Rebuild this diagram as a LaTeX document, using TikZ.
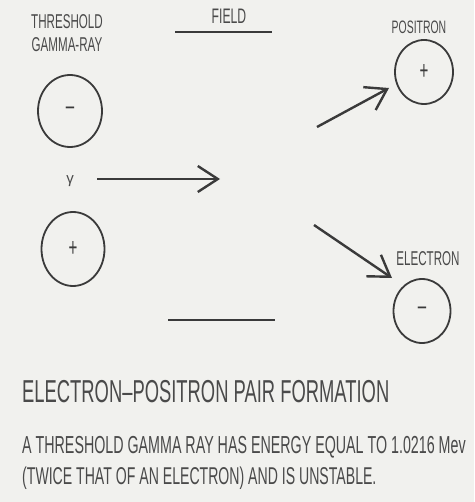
\documentclass[tikz,border=0pt]{standalone}
\usepackage{fontspec}
\setmainfont[FakeStretch=0.58]{Liberation Sans}
\newfontfamily\plainsans{Liberation Sans}
\usetikzlibrary{arrows.meta,shapes.geometric}
\definecolor{ink}{HTML}{3A3A3A}
\definecolor{txt}{HTML}{4A4A4A}
\definecolor{paper}{HTML}{F1F1EE}
\begin{document}
\begin{tikzpicture}[x=1pt,y=-1pt,
  lbl/.style={text=txt,inner sep=0pt,anchor=center},
  particle/.style={draw=ink,line width=1.8pt,ellipse,inner sep=0pt,text=ink,font=\fontsize{26}{26}\selectfont},
  bar/.style={draw=ink,line width=2pt},
  ray/.style={draw=ink,line width=2.4pt,-{Straight Barb[length=20pt,width=26pt,line width=2.4pt]}}]
\fill[paper] (0,0) rectangle (474,502);
\useasboundingbox (0,0) rectangle (474,502);
% labels top
\node[lbl,font=\fontsize{20}{20}\selectfont] (thr) at (67,22) {THRESHOLD};
\node[lbl,font=\fontsize{20}{20}\selectfont] (gam) at (67,45) {GAMMA-RAY};
\node[lbl,font=\fontsize{21}{21}\selectfont] (field) at (229,16) {FIELD};
\node[lbl,font=\fontsize{18}{18}\selectfont] (poslbl) at (419,27) {POSITRON};
\node[lbl,font=\fontsize{20}{20}\selectfont] (elelbl) at (428,259) {ELECTRON};
% field bars
\coordinate (f1a) at (175,32); \coordinate (f1b) at (272,32);
\coordinate (f2a) at (168,320); \coordinate (f2b) at (275,320);
\draw[bar] (f1a) -- (f1b);
\draw[bar] (f2a) -- (f2b);
% particles
\node[particle,minimum width=64pt,minimum height=72pt] (neg) at (70,111) {–};
\node[lbl,font=\plainsans\fontsize{15}{15}\selectfont] (gamma) at (70,181) {γ};
\node[particle,minimum width=63pt,minimum height=74pt] (pos) at (73,249) {+};
\node[particle,minimum width=58pt,minimum height=64pt] (posout) at (424,72) {+};
\node[particle,minimum width=57pt,minimum height=64pt] (eleout) at (422,311) {–};
% arrows
\coordinate (h1) at (97,179); \coordinate (h2) at (220,179);
\draw[ray] (h1) -- (h2);
\coordinate (p1) at (317,127); \coordinate (p2) at (389,88);
\draw[ray] (p1) -- (p2);
\coordinate (e1) at (314,225); \coordinate (e2) at (392,278);
\draw[ray] (e1) -- (e2);
% captions
\node[lbl,anchor=west,font=\fontsize{31.7}{31.7}\selectfont] (title) at (22,392) {ELECTRON–POSITRON PAIR FORMATION};
\node[lbl,anchor=west,font=\fontsize{24.6}{24.6}\selectfont] (cap1) at (22,447) {A THRESHOLD GAMMA RAY HAS ENERGY EQUAL TO 1.0216 Mev};
\node[lbl,anchor=west,font=\fontsize{24.3}{24.3}\selectfont] (cap2) at (22,478) {(TWICE THAT OF AN ELECTRON) AND IS UNSTABLE.};
\end{tikzpicture}
\end{document}
